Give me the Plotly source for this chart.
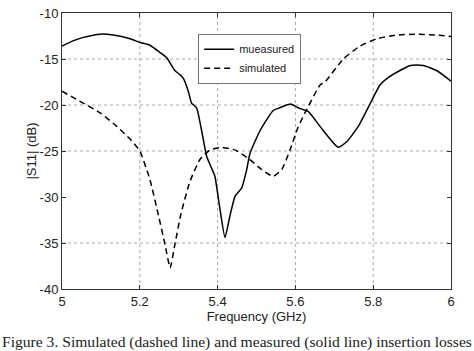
import plotly.graph_objects as go

# Measured (solid)
meas_f = [5.0, 5.03, 5.055, 5.098, 5.132, 5.175, 5.2, 5.226, 5.252, 5.269, 5.29, 5.303, 5.312,
          5.325, 5.333, 5.346, 5.359, 5.372, 5.385, 5.393, 5.406, 5.419, 5.432, 5.445, 5.462,
          5.475, 5.483, 5.509, 5.543, 5.56, 5.588, 5.607, 5.62, 5.633, 5.672, 5.71, 5.732,
          5.762, 5.794, 5.817, 5.839, 5.869, 5.895, 5.929, 5.963, 6.0]
meas_v = [-13.6, -13.0, -12.65, -12.3, -12.4, -12.8, -13.2, -13.5, -14.3, -14.85, -16.25, -16.7,
          -17.1, -18.55, -19.8, -20.3, -22.8, -25.6, -26.9, -27.75, -31.3, -34.4, -32.0, -29.9,
          -29.0, -27.0, -25.3, -22.8, -20.6, -20.3, -19.9, -20.3, -20.5, -20.7, -22.8, -24.6,
          -24.0, -22.3, -19.7, -17.85, -17.0, -16.25, -15.7, -15.7, -16.25, -17.4]

# Simulated (dashed)
sim_f = [5.0, 5.046, 5.098, 5.14, 5.175, 5.2, 5.226, 5.248, 5.265, 5.278, 5.29, 5.306, 5.329,
         5.355, 5.38, 5.41, 5.445, 5.479, 5.513, 5.543, 5.565, 5.586, 5.607, 5.629, 5.663,
         5.676, 5.723, 5.766, 5.809, 5.86, 5.912, 5.963, 6.0]
sim_v = [-18.5, -19.6, -20.85, -22.3, -23.7, -25.0, -28.1, -32.0, -35.2, -37.7, -35.2, -31.8,
         -28.3, -25.9, -24.9, -24.6, -24.9, -25.8, -27.0, -27.75, -27.0, -24.9, -22.4, -20.5,
         -17.85, -17.5, -15.0, -13.6, -12.8, -12.4, -12.3, -12.4, -12.55]

x_ticks = [5, 5.2, 5.4, 5.6, 5.8, 6]
y_ticks = [-40, -35, -30, -25, -20, -15, -10]
x_grid = [5.2, 5.4, 5.6, 5.8]
y_grid = [-15, -20, -25, -35]

fig = go.Figure()
fig.add_trace(go.Scatter(x=meas_f, y=meas_v, mode="lines", name="mueasured",
                         line=dict(color="black", width=1.5, shape="spline", smoothing=0.5)))
fig.add_trace(go.Scatter(x=sim_f, y=sim_v, mode="lines", name="simulated",
                         line=dict(color="black", width=1.5, dash="6px,4px", shape="spline", smoothing=0.5)))

for gx in x_grid:
    fig.add_shape(type="line", xref="x", yref="y", x0=gx, x1=gx, y0=-40, y1=-10,
                  line=dict(color="#aaa", width=1, dash="dot"), layer="below")
for gy in y_grid:
    fig.add_shape(type="line", xref="x", yref="y", x0=5, x1=6, y0=gy, y1=gy,
                  line=dict(color="#aaa", width=1, dash="dot"), layer="below")

axis_common = dict(showgrid=False, zeroline=False, showline=True, linecolor="#333", linewidth=1,
                   mirror="ticks", ticks="inside", ticklen=4, tickcolor="#333",
                   ticklabeloverflow="allow",
                   tickfont=dict(family="Liberation Sans, Arial", size=13, color="#222"))

fig.update_xaxes(range=[5, 6], tickvals=x_ticks, ticktext=[str(t) for t in x_ticks],
                 title=dict(text="Frequency (GHz)", font=dict(family="Liberation Sans, Arial", size=13, color="#222"),
                            standoff=4), **axis_common)
fig.update_yaxes(range=[-40, -10], tickvals=y_ticks, ticktext=[str(t) for t in y_ticks],
                 title=dict(text="|S11| (dB)", font=dict(family="Liberation Sans, Arial", size=13, color="#222"),
                            standoff=0), **axis_common)

fig.add_annotation(text="Figure 3. Simulated (dashed line) and measured (solid line) insertion losses",
                   xref="paper", yref="paper", x=-0.16, y=-0.153, xanchor="left", yanchor="top",
                   showarrow=False, font=dict(family="Liberation Serif, Times New Roman", size=15.6, color="#222"))

fig.update_layout(
    width=474, height=351,
    margin=dict(l=62, r=23, t=6, b=62),
    paper_bgcolor="white", plot_bgcolor="white",
    showlegend=True,
    legend=dict(x=0.35, y=0.925, xanchor="left", yanchor="top",
                bgcolor="white", bordercolor="#777", borderwidth=1,
                font=dict(family="Liberation Sans, Arial", size=11, color="#222"),
                tracegroupgap=0, itemwidth=30),
)

fig.write_html("out.html")
